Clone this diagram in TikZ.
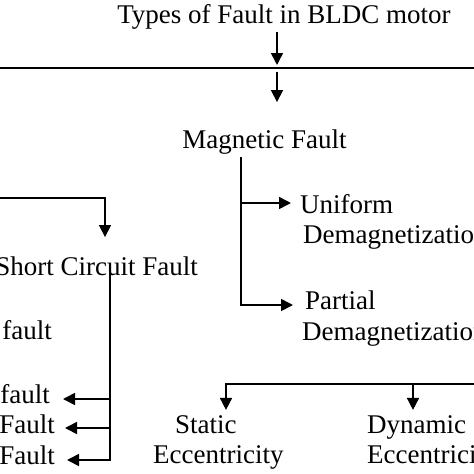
\documentclass[tikz,border=0pt]{standalone}
\usepackage{fontspec}
\setmainfont{Liberation Serif}
\usetikzlibrary{arrows.meta,positioning}

\tikzstyle{block} = [rectangle, inner sep=0pt, font=\fontsize{27}{32}\selectfont]
\tikzstyle{arrow} = [draw, line width=1.6pt, -{Triangle[length=12pt,width=12pt]}]
\tikzstyle{line} = [draw, line width=1.6pt]

\begin{document}
\begin{tikzpicture}[x=1pt, y=-1pt]
    \useasboundingbox (0,0) rectangle (474,474);
    \clip (0,0) rectangle (474,474);

    \node[block, anchor=base] (types) at (284,23) {Types of Fault in BLDC motor};
    \node[block, anchor=base] (magnetic) at (264.5,148) {Magnetic Fault};
    \node[block, anchor=base west] (uniform) at (300,213) {Uniform};
    \node[block, anchor=base west] (uniformD) at ([xshift=3pt, yshift=-30pt]uniform.base west) {Demagnetization};
    \node[block, anchor=base west] (partial) at (305,309) {Partial};
    \node[block, anchor=base west] (partialD) at ([xshift=-3pt, yshift=-31pt]partial.base west) {Demagnetization};
    \node[block, anchor=base east] (short) at (198,275) {Short Circuit Fault};
    \node[block, anchor=base east] (faultA) at (52,339) {fault};
    \node[block, anchor=base east] (faultB) at (50,403) {fault};
    \node[block, anchor=base east] (faultC) at (55,433) {Fault};
    \node[block, anchor=base east] (faultD) at (55,464) {Fault};
    \node[block, anchor=base west] (static) at (175,433) {Static};
    \node[block, anchor=base west] (staticE) at (153,463) {Eccentricity};
    \node[block, anchor=base west] (dynamic) at (367,433) {Dynamic};
    \node[block, anchor=base west] (dynamicE) at (367,463) {Eccentricity};

    % junctions
    \coordinate (bus) at (277,68);
    \coordinate (busW) at (0,68);
    \coordinate (busE) at (474,68);
    \coordinate (magUni) at (241,203);
    \coordinate (magPar) at (241,305);
    \coordinate (shortIn) at (0,198);
    \coordinate (shortKnee) at (105,198);
    \coordinate (shortBus) at (110,273);
    \coordinate (shortB) at (110,399);
    \coordinate (shortC) at (110,428);
    \coordinate (shortD) at (110,460);
    \coordinate (eccIn) at (474,384);
    \coordinate (eccW) at (226,384);
    \coordinate (eccD) at (413,384);

    % lines
    \draw [line] (busW) -- (busE);
    \draw [arrow, shorten <=3pt, shorten >=3pt] (types.south -| bus) -- (bus);
    \draw [arrow, shorten <=4pt, shorten >=27pt] (bus) -- (magnetic.north -| bus);
    \draw [arrow, shorten <=3pt, shorten >=12pt] (magnetic.south -| magPar) -- (magPar) -- (magPar -| partial.west);
    \draw [arrow, shorten >=9pt] (magUni) -- (magUni -| uniform.west);
    \draw [arrow, shorten >=19pt] (shortIn) -- (shortKnee) -- (shortKnee |- short.north);
    \draw [arrow, shorten >=12pt] (shortBus) -- (shortD) -- (shortD -| faultD.east);
    \draw [arrow, shorten >=13pt] (shortB) -- (shortB -| faultB.east);
    \draw [arrow, shorten >=10pt] (shortC) -- (shortC -| faultC.east);
    \draw [arrow, shorten >=5pt] (eccIn) -- (eccW) -- (eccW |- static.north);
    \draw [arrow, shorten >=5pt] (eccD) -- (eccD |- dynamic.north);
\end{tikzpicture}
\end{document}
